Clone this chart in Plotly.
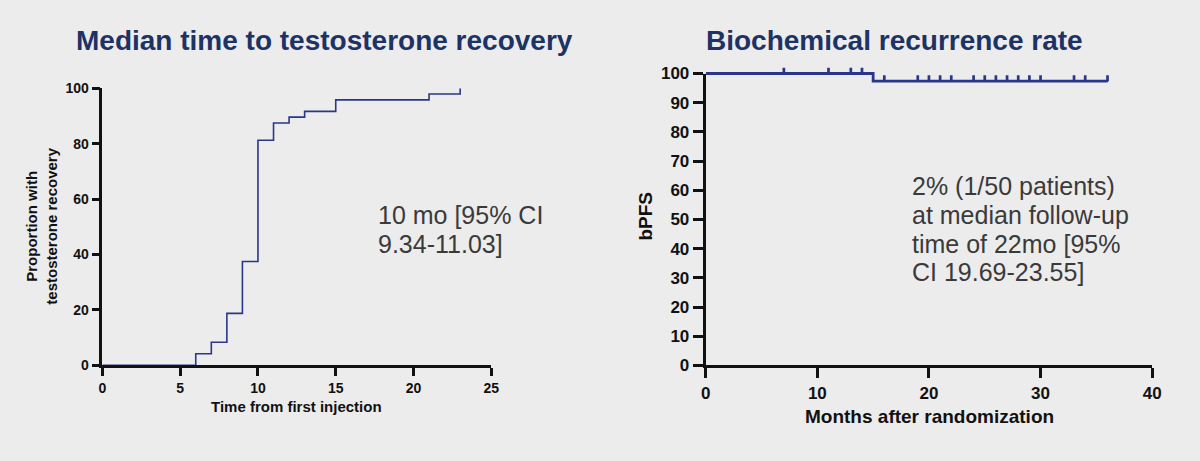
import plotly.graph_objects as go

# ---- Left chart: testosterone recovery (cumulative step curve) ----
rec_time = [0, 6, 7, 8, 9, 10, 11, 12, 13, 15, 21, 23]
rec_prop = [0, 4.17, 8.33, 18.75, 37.5, 81.25, 87.5, 89.58, 91.67, 95.83, 97.92, 100]
left_xticks = [0, 5, 10, 15, 20, 25]
left_yticks = [0, 20, 40, 60, 80, 100]

# ---- Right chart: bPFS Kaplan-Meier ----
bpfs_time = [0, 15, 36]
bpfs_val = [100, 97.4, 97.4]
cens_time = [7, 11, 13, 14, 16, 19, 20, 21, 22, 24, 25, 26, 27, 28, 29, 30, 33, 34, 36]
cens_val = [100, 100, 100, 100] + [97.4] * 15
right_xticks = [0, 10, 20, 30, 40]
right_yticks = [0, 10, 20, 30, 40, 50, 60, 70, 80, 90, 100]

# ---- Text ----
left_note = ["10 mo [95% CI", "9.34-11.03]"]
right_note = ["2% (1/50 patients)", "at median follow-up", "time of 22mo [95%", "CI 19.69-23.55]"]

BG = "#ececec"
LINE = "#2a3689"
TITLE = "#1d3265"
NOTE = "#3a3a3a"
FONT = "Liberation Sans, Arial, sans-serif"
W, H = 1200, 461

def px(x):
    return x / W

def py(y):
    return 1 - y / H

# right plot pixel frame
R_BOT, R_TOP, R_TOP_EXT = 371.7, 67.3, 55.0
ext_top_val = 100 * (R_BOT - R_TOP_EXT) / (R_BOT - R_TOP)

fig = go.Figure()
fig.add_trace(go.Scatter(x=rec_time, y=rec_prop, mode="lines", line_shape="hv",
                         line=dict(color=LINE, width=1.6), cliponaxis=False,
                         xaxis="x", yaxis="y", showlegend=False, hoverinfo="skip"))
fig.add_trace(go.Scatter(x=bpfs_time, y=bpfs_val, mode="lines", line_shape="hv",
                         line=dict(color=LINE, width=2.8), cliponaxis=False,
                         xaxis="x3", yaxis="y3", showlegend=False, hoverinfo="skip"))
fig.add_trace(go.Scatter(x=cens_time, y=cens_val, mode="markers",
                         marker=dict(color=LINE, size=2), cliponaxis=False,
                         error_y=dict(type="constant", value=2.0, symmetric=False,
                                      valueminus=0, width=0, thickness=2.7, color=LINE),
                         xaxis="x3", yaxis="y3", showlegend=False, hoverinfo="skip"))
# keep visible right axes alive
fig.add_trace(go.Scatter(x=[None], y=[None], xaxis="x2", yaxis="y2",
                         showlegend=False, hoverinfo="skip"))

axis_common = dict(showgrid=False, zeroline=False, showline=True, linecolor="#111",
                   ticks="outside", tickcolor="#111", fixedrange=True)

fig.update_layout(
    width=W, height=H,
    margin=dict(l=0, r=0, t=0, b=0),
    paper_bgcolor=BG, plot_bgcolor="rgba(0,0,0,0)",
    font=dict(family=FONT, color="#111"),
    xaxis=dict(domain=[px(98.6), px(492)], range=[0, 25], tickvals=left_xticks,
               linewidth=2.5, tickwidth=2.5, ticklen=8, anchor="y",
               tickfont=dict(size=14, weight="bold", color="#111"), **axis_common),
    yaxis=dict(domain=[py(371.7), py(82.7)], range=[0, 100], tickvals=left_yticks,
               linewidth=2.5, tickwidth=2.5, ticklen=8, anchor="x",
               tickfont=dict(size=14, weight="bold", color="#111"), **axis_common),
    xaxis2=dict(domain=[px(709), px(1160.7)], range=[0, 40], tickvals=right_xticks,
                linewidth=3, tickwidth=3, ticklen=10, anchor="y2",
                tickfont=dict(size=17, weight="bold", color="#111"), **axis_common),
    yaxis2=dict(domain=[py(R_BOT), py(R_TOP)], range=[0, 100], tickvals=right_yticks,
                linewidth=3, tickwidth=3, ticklen=10, anchor="x2",
                tickfont=dict(size=17, weight="bold", color="#111"), **axis_common),
    xaxis3=dict(domain=[px(709), px(1160.7)], range=[0, 40], anchor="y3",
                visible=False, fixedrange=True),
    yaxis3=dict(domain=[py(R_BOT), py(R_TOP_EXT)], range=[0, ext_top_val], anchor="x3",
                visible=False, fixedrange=True),
)

annotations = [
    dict(text="Median time to testosterone recovery", x=px(323.5), y=py(33),
         font=dict(size=28, weight="bold", color=TITLE)),
    dict(text="Biochemical recurrence rate", x=px(900.5), y=py(33),
         font=dict(size=28, weight="bold", color=TITLE)),
    dict(text="Time from first injection", x=px(295), y=py(415),
         font=dict(size=15, weight="bold", color="#111")),
    dict(text="Proportion with<br>testosterone recovery", x=px(37.5), y=py(227),
         textangle=-90, font=dict(size=15, weight="bold", color="#111")),
    dict(text="Months after randomization", x=px(935), y=py(425),
         font=dict(size=19, weight="bold", color="#111")),
    dict(text="bPFS", x=px(648), y=py(216), textangle=-90,
         font=dict(size=19, weight="bold", color="#111")),
]
for i, line in enumerate(left_note):
    annotations.append(dict(text=line, x=px(375), y=py(214.5 + 30.5 * i), xanchor="left",
                            font=dict(size=25, color=NOTE)))
for i, line in enumerate(right_note):
    annotations.append(dict(text=line, x=px(915.5), y=py(185 + 29.8 * i), xanchor="left",
                            font=dict(size=25, color=NOTE)))

for a in annotations:
    a.setdefault("xanchor", "center")
    a.setdefault("yanchor", "middle")
    fig.add_annotation(xref="paper", yref="paper", showarrow=False, **a)

fig.write_html("out.html")
